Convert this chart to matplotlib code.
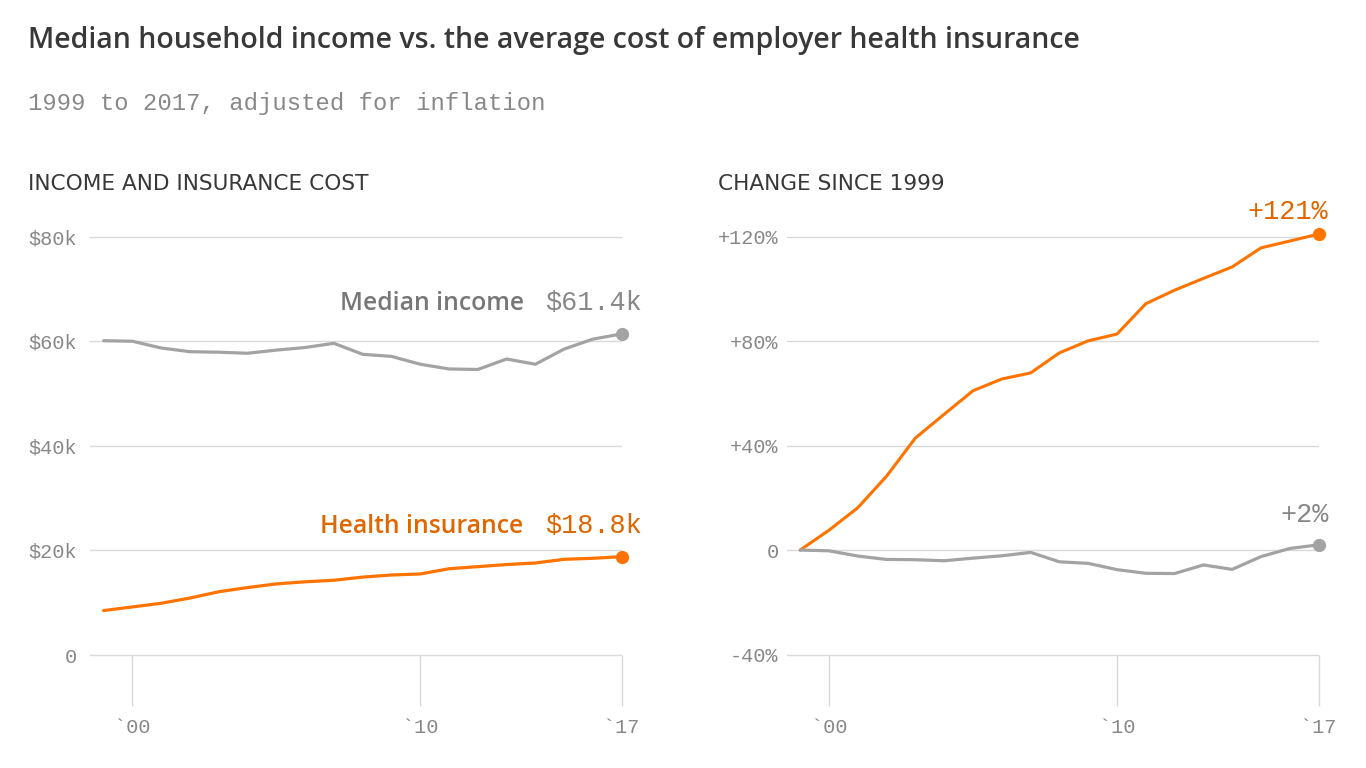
import matplotlib
matplotlib.use("Agg")
import matplotlib.pyplot as plt

years = list(range(1999, 2018))
income = [60.1, 60.0, 58.7, 58.0, 57.9, 57.7, 58.3, 58.8, 59.6, 57.5, 57.1,
          55.6, 54.7, 54.6, 56.6, 55.6, 58.5, 60.4, 61.4]
insurance = [8.5, 9.2, 9.9, 10.9, 12.1, 12.9, 13.6, 14.0, 14.3, 14.9, 15.3,
             15.5, 16.5, 16.9, 17.3, 17.6, 18.3, 18.5, 18.8]
income_chg = [0, -0.3, -2.3, -3.6, -3.7, -4.1, -3.1, -2.2, -0.9, -4.5, -5.1,
              -7.5, -8.9, -9.0, -5.7, -7.4, -2.5, 0.6, 2.0]
insurance_chg = [0, 7.6, 16.2, 28.3, 42.9, 52.0, 61.0, 65.5, 67.8, 75.5, 80.1,
                 82.7, 94.3, 99.5, 104.0, 108.4, 115.7, 118.3, 121.0]

left_ticks = [0, 20, 40, 60, 80]
left_labels = ["0", "$20k", "$40k", "$60k", "$80k"]
right_ticks = [-40, 0, 40, 80, 120]
right_labels = ["-40%", "0", "+40%", "+80%", "+120%"]
x_ticks = [2000, 2010, 2017]
x_labels = ["`00", "`10", "`17"]

GRAY = "#a3a3a3"
ORANGE = "#ff7300"
ORANGE_TXT = "#e06600"
GRID = "#d9d9d9"
MONO = "Liberation Mono"
SANS = "Open Sans"

fig = plt.figure(figsize=(13.66, 7.68), dpi=100)

fig.text(0.0205, 0.938, "Median household income vs. the average cost of employer health insurance",
         fontsize=20.5, family=SANS, weight="semibold", color="#383838", va="baseline")
fig.text(0.0205, 0.857, "1999 to 2017, adjusted for inflation",
         fontsize=17.2, family=MONO, color="#888888", va="baseline")
fig.text(0.0205, 0.753, "INCOME AND INSURANCE COST",
         fontsize=15.6, family="DejaVu Sans", color="#383838", va="baseline")
fig.text(0.5256, 0.753, "CHANGE SINCE 1999",
         fontsize=15.6, family="DejaVu Sans", color="#383838", va="baseline")

ax1 = fig.add_axes([0.0662, 0.0811, 0.3889, 0.6142])
ax2 = fig.add_axes([0.5761, 0.0811, 0.3892, 0.6142])


def style(ax, ticks, labels, ylim, pad):
    ax.set_xlim(1998.54, 2017)
    ax.set_ylim(*ylim)
    ax.set_yticks(ticks)
    ax.set_yticklabels(labels, family=MONO, fontsize=14.6, color="#888888")
    ax.set_xticks(x_ticks)
    ax.set_xticklabels(x_labels, family=MONO, fontsize=14.6, color="#888888")
    ax.tick_params(axis="y", length=0, pad=pad)
    ax.tick_params(axis="x", direction="in", length=36.5, width=1, color=GRID, pad=9)
    ax.grid(axis="y", color=GRID, lw=1)
    ax.set_axisbelow(True)
    for s in ax.spines.values():
        s.set_visible(False)


style(ax1, left_ticks, left_labels, (-9.69, 80.5), 9.4)
style(ax2, right_ticks, right_labels, (-59.6, 121.0), 6)

ax1.plot(years, income, color=GRAY, lw=2.3, solid_capstyle="round")
ax1.plot(years[-1], income[-1], "o", color=GRAY, ms=8.5, clip_on=False)
ax1.plot(years, insurance, color=ORANGE, lw=2.3, solid_capstyle="round")
ax1.plot(years[-1], insurance[-1], "o", color=ORANGE, ms=8.5, clip_on=False)

ax1.annotate("$61.4k", (years[-1], income[-1]), xytext=(14.4, 17.3), textcoords="offset points",
             ha="right", va="baseline", family=MONO, fontsize=19.4, color="#888888",
             annotation_clip=False)
ax1.annotate("Median income", (years[-1], income[-1]), xytext=(-70.5, 17.3), textcoords="offset points",
             ha="right", va="baseline", family=SANS, fontsize=17.8, weight="semibold", color="#777777",
             annotation_clip=False)
ax1.annotate("$18.8k", (years[-1], insurance[-1]), xytext=(14.4, 17.3), textcoords="offset points",
             ha="right", va="baseline", family=MONO, fontsize=19.4, color=ORANGE_TXT,
             annotation_clip=False)
ax1.annotate("Health insurance", (years[-1], insurance[-1]), xytext=(-70.5, 17.3), textcoords="offset points",
             ha="right", va="baseline", family=SANS, fontsize=17.8, weight="semibold", color=ORANGE_TXT,
             annotation_clip=False)

ax2.plot(years, insurance_chg, color=ORANGE, lw=2.2, solid_capstyle="round")
ax2.plot(years[-1], insurance_chg[-1], "o", color=ORANGE, ms=8.5, clip_on=False)
ax2.plot(years, income_chg, color=GRAY, lw=2.3, solid_capstyle="round")
ax2.plot(years[-1], income_chg[-1], "o", color=GRAY, ms=8.5, clip_on=False)

ax2.annotate("+121%", (years[-1], insurance_chg[-1]), xytext=(7.2, 10.8), textcoords="offset points",
             ha="right", va="baseline", family=MONO, fontsize=19.4, color=ORANGE_TXT,
             annotation_clip=False)
ax2.annotate("+2%", (years[-1], income_chg[-1]), xytext=(7.2, 16.6), textcoords="offset points",
             ha="right", va="baseline", family=MONO, fontsize=19.4, color="#888888",
             annotation_clip=False)

fig.savefig("out.png", dpi=100)
